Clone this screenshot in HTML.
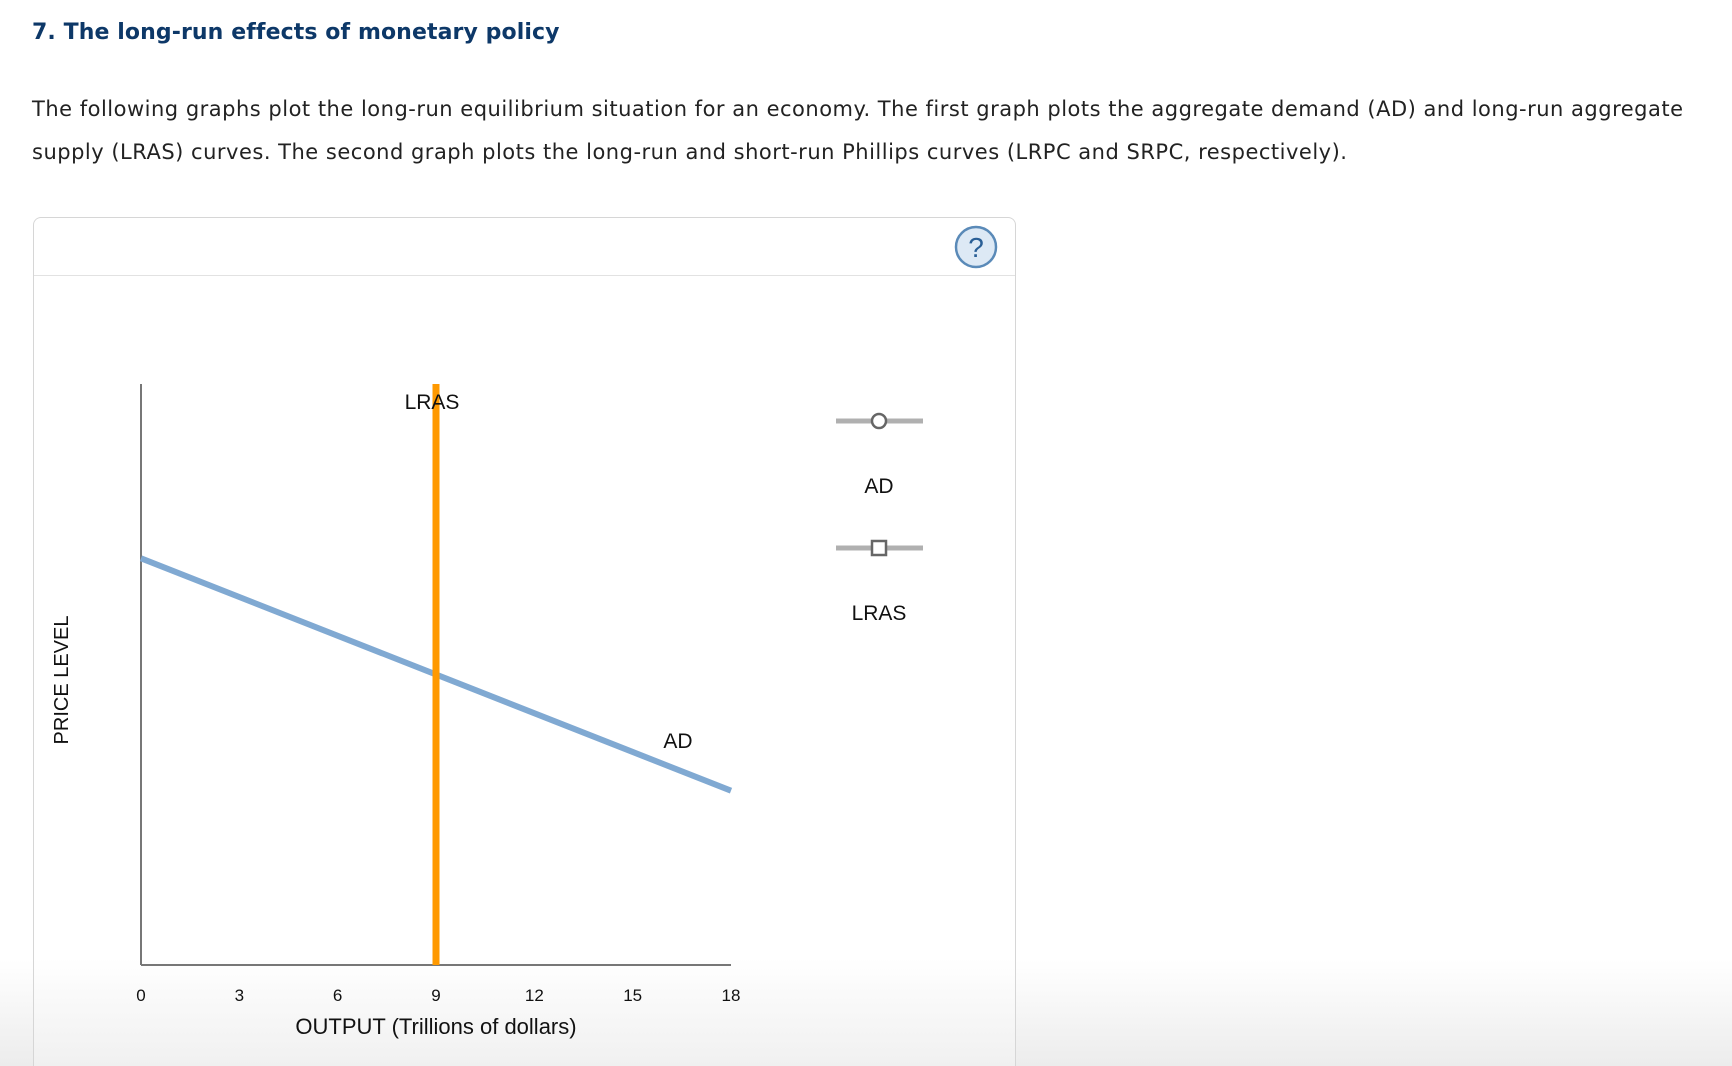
<!DOCTYPE html>
<html style="height:1066px;overflow:hidden"><head><meta charset="utf-8"><style>
body{margin:0;width:1732px;height:1066px;overflow:hidden;background:#fff;font-family:"Liberation Sans",sans-serif;position:relative}
.bg{position:absolute;left:0;top:960px;width:1732px;height:106px;background:linear-gradient(#fff,#ececec)}
h1{position:absolute;left:32px;top:20px;margin:0;font-size:22px;font-weight:bold;color:#0d3868;font-family:"DejaVu Sans",sans-serif;letter-spacing:0.1px}
p{position:absolute;left:32px;top:88px;margin:0;width:1700px;font-size:21px;line-height:43px;color:#222;font-family:"DejaVu Sans",sans-serif;letter-spacing:0.5px}
.panel{position:absolute;left:33px;top:217px;width:981px;height:849px;border:1px solid #d6d6d6;border-bottom:none;border-radius:8px 8px 0 0;background:linear-gradient(#fff 740px,#f0f0f0 849px)}
.hdr{position:absolute;left:0;top:57px;width:981px;height:1px;background:#e2e2e2}
</style></head><body>
<div class="bg"></div>
<h1>7. The long-run effects of monetary policy</h1>
<p>The following graphs plot the long-run equilibrium situation for an economy. The first graph plots the aggregate demand (AD) and long-run aggregate<br>supply (LRAS) curves. The second graph plots the long-run and short-run Phillips curves (LRPC and SRPC, respectively).</p>
<div class="panel"><div class="hdr"></div></div>
<svg id="chart" width="1732" height="1066" style="position:absolute;left:0;top:0">
<g>
<circle cx="976" cy="247" r="20" fill="#dde9f5" stroke="#5a8ab8" stroke-width="2.5"/>
<text x="976" y="257" text-anchor="middle" font-size="28" fill="#2a5f96" font-family="Liberation Sans">?</text></g>
</svg>
<script>
const xTicks=[0,3,6,9,12,15,18];
const adX=[0,18];
const adY=[140,60];
const lrasX=[9];
const yMax=200;
const svg=document.getElementById('chart');
const NS='http://www.w3.org/2000/svg';
const L=141,R=731,T=384,B=965;
const sx=v=>L+(v/18)*(R-L);
const sy=v=>B-(v/yMax)*(B-T);
function mk(tag,attrs,parent){const e=document.createElementNS(NS,tag);for(const k in attrs)e.setAttribute(k,attrs[k]);(parent||svg).appendChild(e);return e;}
let a=mk('line',{x1:L,y1:T,x2:L,y2:B,stroke:'#777','stroke-width':2});


a=mk('line',{x1:L,y1:B,x2:R,y2:B,stroke:'#777','stroke-width':2});


xTicks.forEach(t=>{const e=mk('text',{x:sx(t),y:1001,'text-anchor':'middle','font-size':17,fill:'#111'});e.textContent=t;

});
let e=mk('text',{x:436,y:1034,'text-anchor':'middle','font-size':22,fill:'#111'});e.textContent='OUTPUT (Trillions of dollars)';


e=mk('text',{x:0,y:0,'text-anchor':'middle','font-size':20,fill:'#111',transform:'translate(68,680) rotate(-90)'});e.textContent='PRICE LEVEL';


e=mk('line',{x1:sx(adX[0]),y1:sy(adY[0]),x2:sx(adX[1]),y2:sy(adY[1]),stroke:'#80a9d2','stroke-width':6});


e=mk('line',{x1:sx(lrasX[0]),y1:T,x2:sx(lrasX[0]),y2:B,stroke:'#ff9900','stroke-width':7});


e=mk('text',{x:sx(lrasX[0])-4,y:409,'text-anchor':'middle','font-size':21,fill:'#111'});e.textContent='LRAS';


e=mk('text',{x:678,y:748,'text-anchor':'middle','font-size':21,fill:'#111'});e.textContent='AD';


e=mk('line',{x1:836,y1:421,x2:923,y2:421,stroke:'#b0b0b0','stroke-width':5});


e=mk('circle',{cx:879,cy:421,r:7,fill:'#fff',stroke:'#666','stroke-width':2.5});


e=mk('text',{x:879,y:493,'text-anchor':'middle','font-size':21,fill:'#111'});e.textContent='AD';


e=mk('line',{x1:836,y1:548,x2:923,y2:548,stroke:'#b0b0b0','stroke-width':5});


e=mk('rect',{x:872,y:541,width:14,height:14,fill:'#fff',stroke:'#666','stroke-width':2.5});


e=mk('text',{x:879,y:620,'text-anchor':'middle','font-size':21,fill:'#111'});e.textContent='LRAS';


</script>
</body></html>
